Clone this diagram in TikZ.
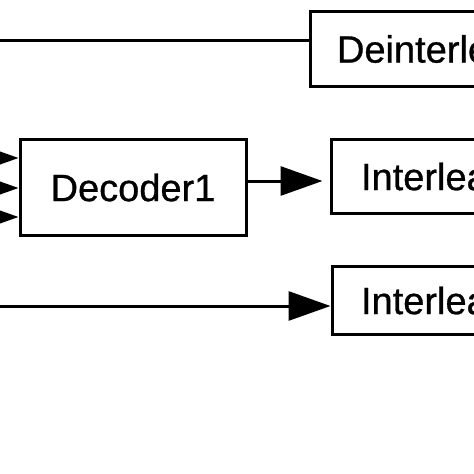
\documentclass[tikz,border=0pt]{standalone}
\usepackage{fontspec}
\setmainfont{Liberation Sans}
\newfontfamily\blockfont{Liberation Sans}[FakeBold=0.8]
\usetikzlibrary{arrows.meta,positioning}
\tikzset{
  BlockBox/.style={
    draw, line width=3pt,
    anchor=west, inner ysep=0pt,
    font=\blockfont\fontsize{38}{44}\selectfont
  },
  Wire/.style={line width=3pt},
  Flow/.style={line width=3pt, -{Triangle[length=42pt,width=29pt]}}
}

\begin{document}
\begin{tikzpicture}[x=1pt, y=-1pt, line join=miter]
  \useasboundingbox (0,0) rectangle (474,474);
  \clip (0,0) rectangle (474,474);

  % blocks (cut off at the right edge)
  \node[BlockBox, minimum height=75pt, inner xsep=27pt] (deint) at (308.5,49) {Deinterleaver};
  \node[BlockBox, minimum height=96pt, minimum width=226pt, inner xsep=0pt] (dec1) at (18.5,187.5) {Decoder1};
  \node[BlockBox, minimum height=74pt, inner xsep=30pt] (intl1) at (329.5,176.5) {Interleaver};
  \node[BlockBox, minimum height=68pt, inner xsep=29pt] (intl2) at (330.5,300.5) {Interleaver};

  % free ends outside the frame
  \coordinate (deintOut) at (-30,40);
  \coordinate (d1Out) at (246,181);
  \coordinate (sysIn) at (-30,306);

  % connections
  \draw[Wire] (deint.west |- deintOut) -- (deintOut);
  \draw[Flow, shorten >=7pt] (d1Out) -- (intl1.west |- d1Out);
  \draw[Flow] (sysIn) -- (intl2.west |- sysIn);

  % three inputs of Decoder1
  \foreach \y/\name in {158/inA, 188/inB, 217/inC} {
    \coordinate (\name) at (-40,\y);
    \draw[Flow] (\name) -- (dec1.west |- \name);
  }
\end{tikzpicture}
\end{document}
